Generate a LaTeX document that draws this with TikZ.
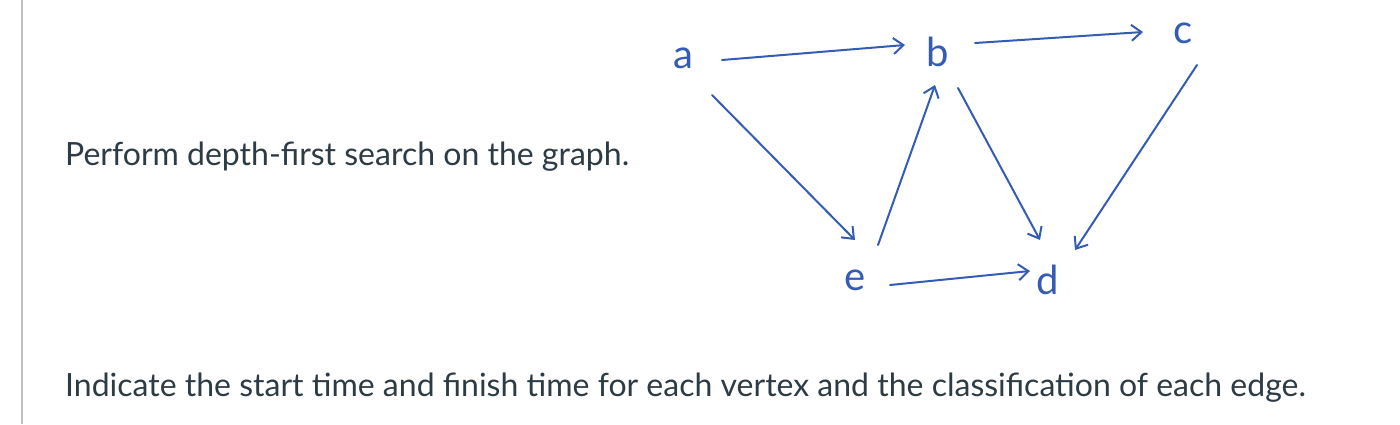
\documentclass[tikz,border=0pt]{standalone}
\usepackage{fontspec}
\setmainfont{Lato}
\usetikzlibrary{arrows.meta}
\definecolor{ink}{RGB}{52,92,180}
\definecolor{txt}{RGB}{45,59,69}
\tikzset{
  vert/.style={text=ink,font=\fontsize{40}{40}\selectfont,inner sep=0pt},
  edge/.style={draw=ink,line width=2pt,line cap=round,-{Straight Barb[length=10pt,width=16pt]}},
  body/.style={text=txt,font=\fontsize{32}{36}\selectfont,anchor=west,inner sep=0pt}
}
\begin{document}
\begin{tikzpicture}[x=1pt,y=-1pt]
\useasboundingbox (0,0) rectangle (1400,424);
\draw[line width=2pt,draw=black!25] (22,0) -- (22,424);
\node[body] (t1) at (65,157) {Perform depth-first search on the graph.};
\node[body] (t2) at (65,388) {Indicate the start time and finish time for each vertex and the classification of each edge.};
\node[vert] (a) at (683,58) {a};
\node[vert] (b) at (938,52) {b};
\node[vert] (c) at (1183,33) {c};
\node[vert] (e) at (855,280) {e};
\node[vert] (d) at (1048,280) {d};
\coordinate (a1) at (722,60); \coordinate (b1) at (905,45);
\coordinate (b2) at (975,43); \coordinate (c1) at (1143,32);
\draw[edge] (a1) -- (b1);
\draw[edge] (b2) -- (c1);
\draw[edge] (712,95) -- (855,240);
\draw[edge] (878,245) -- (935,85);
\draw[edge] (958,88) -- (1040,240);
\draw[edge] (1197,65) -- (1075,250);
\draw[edge] (890,285) -- (1030,271);
\end{tikzpicture}
\end{document}
